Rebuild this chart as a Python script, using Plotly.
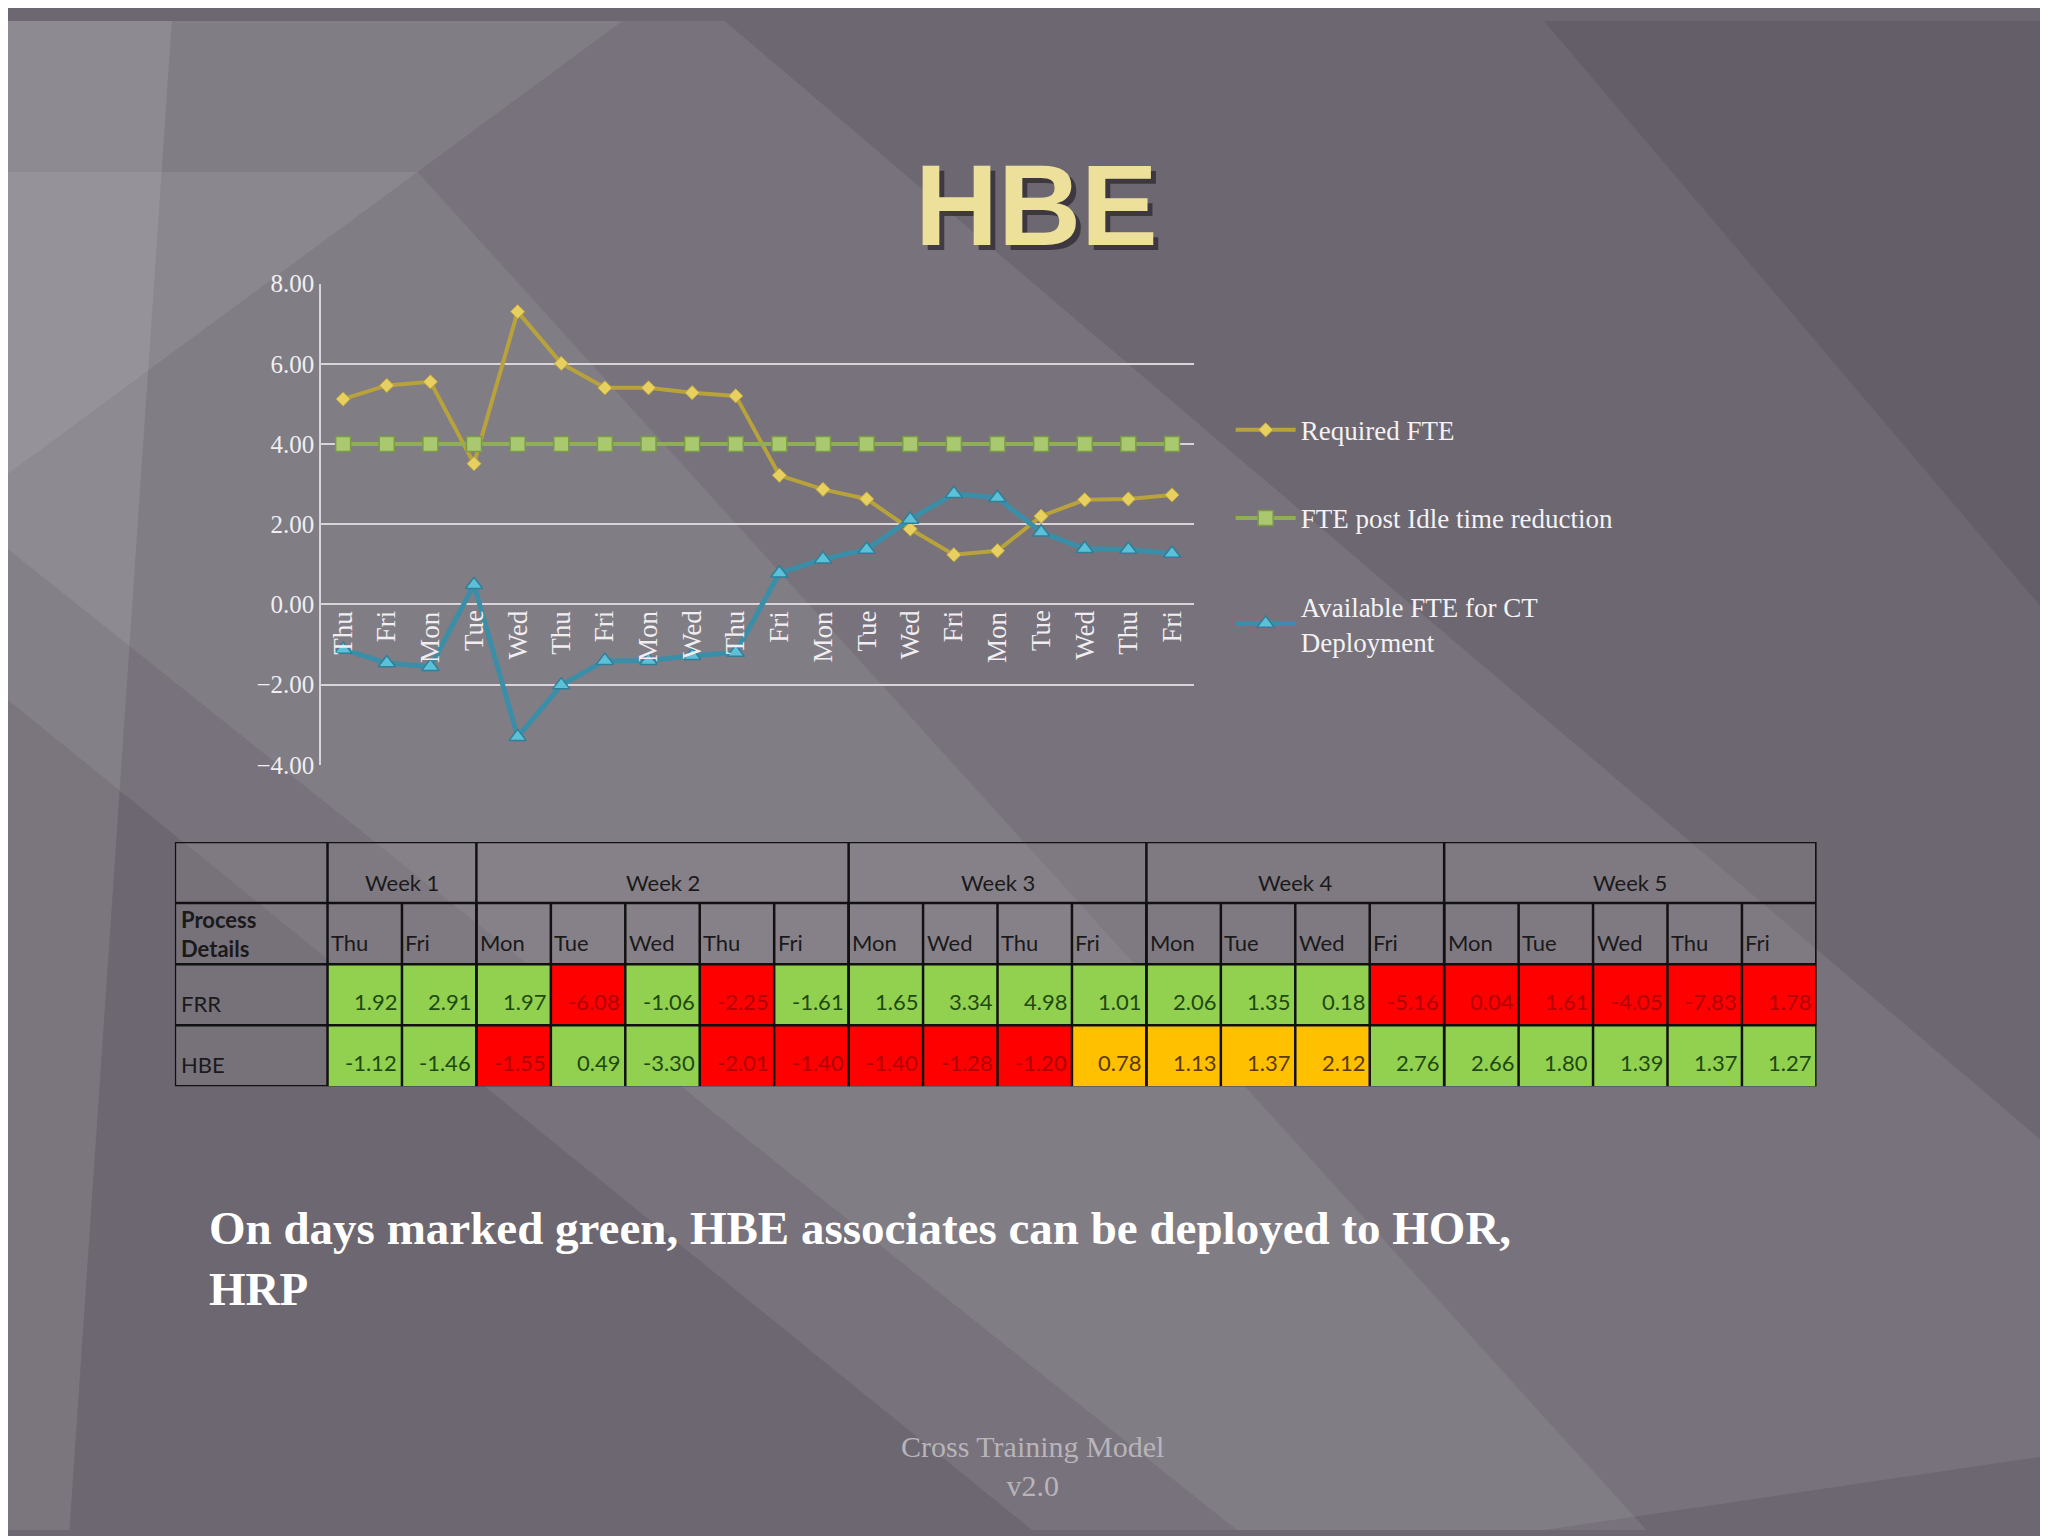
import plotly.graph_objects as go

# chart data
days = ["Thu", "Fri", "Mon", "Tue", "Wed", "Thu", "Fri", "Mon", "Wed", "Thu",
        "Fri", "Mon", "Tue", "Wed", "Fri", "Mon", "Tue", "Wed", "Thu", "Fri"]
required_fte = [5.12, 5.46, 5.55, 3.51, 7.30, 6.01, 5.40, 5.40, 5.28, 5.20,
                3.22, 2.87, 2.63, 1.88, 1.24, 1.34, 2.20, 2.61, 2.63, 2.73]
fte_post_idle = [4.00] * 20
available_fte = [-1.12, -1.46, -1.55, 0.49, -3.30, -2.01, -1.40, -1.40, -1.28, -1.20,
                 0.78, 1.13, 1.37, 2.12, 2.76, 2.66, 1.80, 1.39, 1.37, 1.27]

# table data
weeks = ["Week 1", "Week 2", "Week 3", "Week 4", "Week 5"]
week_spans = [(0, 2), (2, 7), (7, 11), (11, 15), (15, 20)]
frr_vals = [1.92, 2.91, 1.97, -6.08, -1.06, -2.25, -1.61, 1.65, 3.34, 4.98,
            1.01, 2.06, 1.35, 0.18, -5.16, 0.04, 1.61, -4.05, -7.83, 1.78]
frr_status = ["g", "g", "g", "r", "g", "r", "g", "g", "g", "g",
              "g", "g", "g", "g", "r", "r", "r", "r", "r", "r"]
hbe_status = ["g", "g", "r", "g", "g", "r", "r", "r", "r", "r",
              "o", "o", "o", "o", "g", "g", "g", "g", "g", "g"]

code = {"g": 0, "r": 1, "o": 2}
cell_fill = [[0, "#92d050"], [0.333, "#92d050"], [0.334, "#ff0000"], [0.666, "#ff0000"],
             [0.667, "#ffc000"], [1, "#ffc000"]]
txt_col = {"g": "#1e4a10", "r": "#b00000", "o": "#5a3a00"}

serif = "Liberation Serif"
sans = "Lato"
xs = list(range(len(days)))

fig = go.Figure()
fig.add_trace(go.Scatter(x=xs, y=required_fte, name="Required FTE", mode="lines+markers",
                         legendgroup="a",
                         line=dict(color="#b8a23c", width=4),
                         marker=dict(symbol="diamond", size=11, color="#e8d060",
                                     line=dict(color="#b8a23c", width=1))))
fig.add_trace(go.Scatter(x=xs, y=fte_post_idle, name="FTE post Idle time reduction",
                         mode="lines+markers", legendgroup="b",
                         line=dict(color="#8fae55", width=4),
                         marker=dict(symbol="square", size=15, color="#a9c870",
                                     line=dict(color="#7a9a45", width=1.5))))
fig.add_trace(go.Scatter(x=xs, y=available_fte, name="Available FTE for CT<br>Deployment",
                         mode="lines+markers", legendgroup="c",
                         line=dict(color="#3a8ea8", width=5),
                         marker=dict(symbol="triangle-up", size=15, color="#5cc0d8",
                                     line=dict(color="#2f7f98", width=1.5))))

for i, d in enumerate(days):
    fig.add_annotation(x=i, y=0, text=d, textangle=-90, showarrow=False, yanchor="top",
                       yshift=-4, font=dict(family=serif, size=27, color="#f0eef0"))

# table as heatmap
zt = [[code[s] for s in hbe_status], [code[s] for s in frr_status]]
fig.add_trace(go.Heatmap(x=xs, y=[0, 1], z=zt, colorscale=cell_fill, zmin=0, zmax=2,
                         showscale=False, hoverinfo="skip", xaxis="x2", yaxis="y2"))
for i in xs:
    fig.add_annotation(x=i + 0.46, y=1, xref="x2", yref="y2", text=f"{frr_vals[i]:.2f}",
                       xanchor="right", yanchor="bottom", yshift=-22, showarrow=False,
                       font=dict(family=sans, size=22, color=txt_col[frr_status[i]]))
    fig.add_annotation(x=i + 0.46, y=0, xref="x2", yref="y2", text=f"{available_fte[i]:.2f}",
                       xanchor="right", yanchor="bottom", yshift=-22, showarrow=False,
                       font=dict(family=sans, size=22, color=txt_col[hbe_status[i]]))
    fig.add_annotation(x=i - 0.48, y=2, xref="x2", yref="y2", text=days[i], xanchor="left",
                       yanchor="bottom", yshift=-24, showarrow=False,
                       font=dict(family=sans, size=22, color="#1a1a1a"))
for w, (a, b) in zip(weeks, week_spans):
    fig.add_annotation(x=(a + b - 1) / 2, y=3, xref="x2", yref="y2", text=w, showarrow=False,
                       yshift=-10, font=dict(family=sans, size=22, color="#1a1a1a"))
for lab, yy in [("FRR", 1), ("HBE", 0)]:
    fig.add_annotation(x=-2.5, y=yy, xref="x2", yref="y2", text=lab, xanchor="left",
                       yanchor="bottom", yshift=-24, showarrow=False,
                       font=dict(family=sans, size=22, color="#1a1a1a"))
fig.add_annotation(x=-2.5, y=2, xref="x2", yref="y2", text="<b>Process<br>Details</b>",
                   xanchor="left", showarrow=False, align="left",
                   font=dict(family=sans, size=22, color="#1a1a1a"))

shapes = []
# background light streaks
for path, op in [("M 0 1 L 0.35 1 L 1 0.25 L 1 0.05 L 0.75 0 L 0.5 0 L 0 0.55 Z", 0.08),
                 ("M 0 0.9 L 0.2 0.9 L 0.8 0 L 0.6 0 L 0 0.65 Z", 0.08),
                 ("M 0 1 L 0.3 1 L 0 0.7 Z", 0.08),
                 ("M 0 1 L 0.08 1 L 0.03 0 L 0 0 Z", 0.1)]:
    shapes.append(dict(type="path", path=path, xref="paper", yref="paper",
                       fillcolor=f"rgba(255,255,255,{op})", line=dict(width=0), layer="below"))
shapes.append(dict(type="path", path="M 0.75 1 L 1 1 L 1 0.6 Z", xref="paper", yref="paper",
                   fillcolor="rgba(40,30,40,0.12)", line=dict(width=0), layer="below"))
# table grid
lw = 2.5
shapes.append(dict(type="rect", x0=-2.55, x1=19.5, y0=-0.5, y1=3.5, xref="x2", yref="y2",
                   fillcolor="rgba(150,145,150,0.25)", line=dict(color="#111", width=lw),
                   layer="below"))
for yy in [0.5, 1.5, 2.5]:
    shapes.append(dict(type="line", x0=-2.55, x1=19.5, y0=yy, y1=yy, xref="x2", yref="y2",
                       line=dict(color="#111", width=lw)))
for xx in [-0.5] + [b - 0.5 for a, b in week_spans]:
    shapes.append(dict(type="line", x0=xx, x1=xx, y0=-0.5, y1=3.5, xref="x2", yref="y2",
                       line=dict(color="#111", width=lw)))
for i in xs[1:]:
    shapes.append(dict(type="line", x0=i - 0.5, x1=i - 0.5, y0=-0.5, y1=2.5, xref="x2",
                       yref="y2", line=dict(color="#111", width=lw)))

# title with a soft shadow
fig.add_annotation(x=0.502, y=0.878, xref="paper", yref="paper", text="<b>HBE</b>",
                   showarrow=False, yanchor="middle", xshift=5, yshift=-5,
                   font=dict(family="Liberation Sans", size=115, color="rgba(30,25,30,0.6)"))
fig.add_annotation(x=0.502, y=0.878, xref="paper", yref="paper", text="<b>HBE</b>",
                   showarrow=False, yanchor="middle",
                   font=dict(family="Liberation Sans", size=115, color="#ece09a"))
fig.add_annotation(x=0.097, y=0.18, xref="paper", yref="paper", xanchor="left",
                   yanchor="middle", align="left", showarrow=False,
                   text="<b>On days marked green, HBE associates can be deployed to HOR,<br>HRP</b>",
                   font=dict(family=serif, size=47, color="#ffffff"))
fig.add_annotation(x=0.5, y=0.0425, xref="paper", yref="paper", showarrow=False,
                   yanchor="middle", text="Cross Training Model<br>v2.0",
                   font=dict(family=serif, size=30, color="#b8b4ba"))

fig.update_layout(
    width=2048, height=1536, margin=dict(l=0, r=0, t=0, b=0),
    paper_bgcolor="#6c6770", plot_bgcolor="rgba(0,0,0,0)", shapes=shapes,
    showlegend=True,
    legend=dict(x=0.597, y=0.745, xanchor="left", yanchor="top", bgcolor="rgba(0,0,0,0)",
                font=dict(family=serif, size=27, color="#f4f2f4"), tracegroupgap=50,
                itemwidth=60),
    xaxis=dict(domain=[0.153, 0.579], range=[-0.5, 19.5], showticklabels=False,
               showgrid=False, zeroline=False),
    yaxis=dict(domain=[0.507, 0.826], range=[-4, 8], dtick=2, tickformat=".2f",
               gridcolor="#d8d4d8", gridwidth=2, zeroline=True, zerolinecolor="#d8d4d8",
               zerolinewidth=2, showline=True, linecolor="#d8d4d8", linewidth=2,
               tickfont=dict(family=serif, size=25, color="#f0eef0"), ticks=""),
    xaxis2=dict(domain=[0.0815, 0.883], range=[-2.55, 19.5], visible=False),
    yaxis2=dict(domain=[0.294, 0.456], range=[-0.5, 3.5], visible=False),
)
fig.write_html("out.html")
